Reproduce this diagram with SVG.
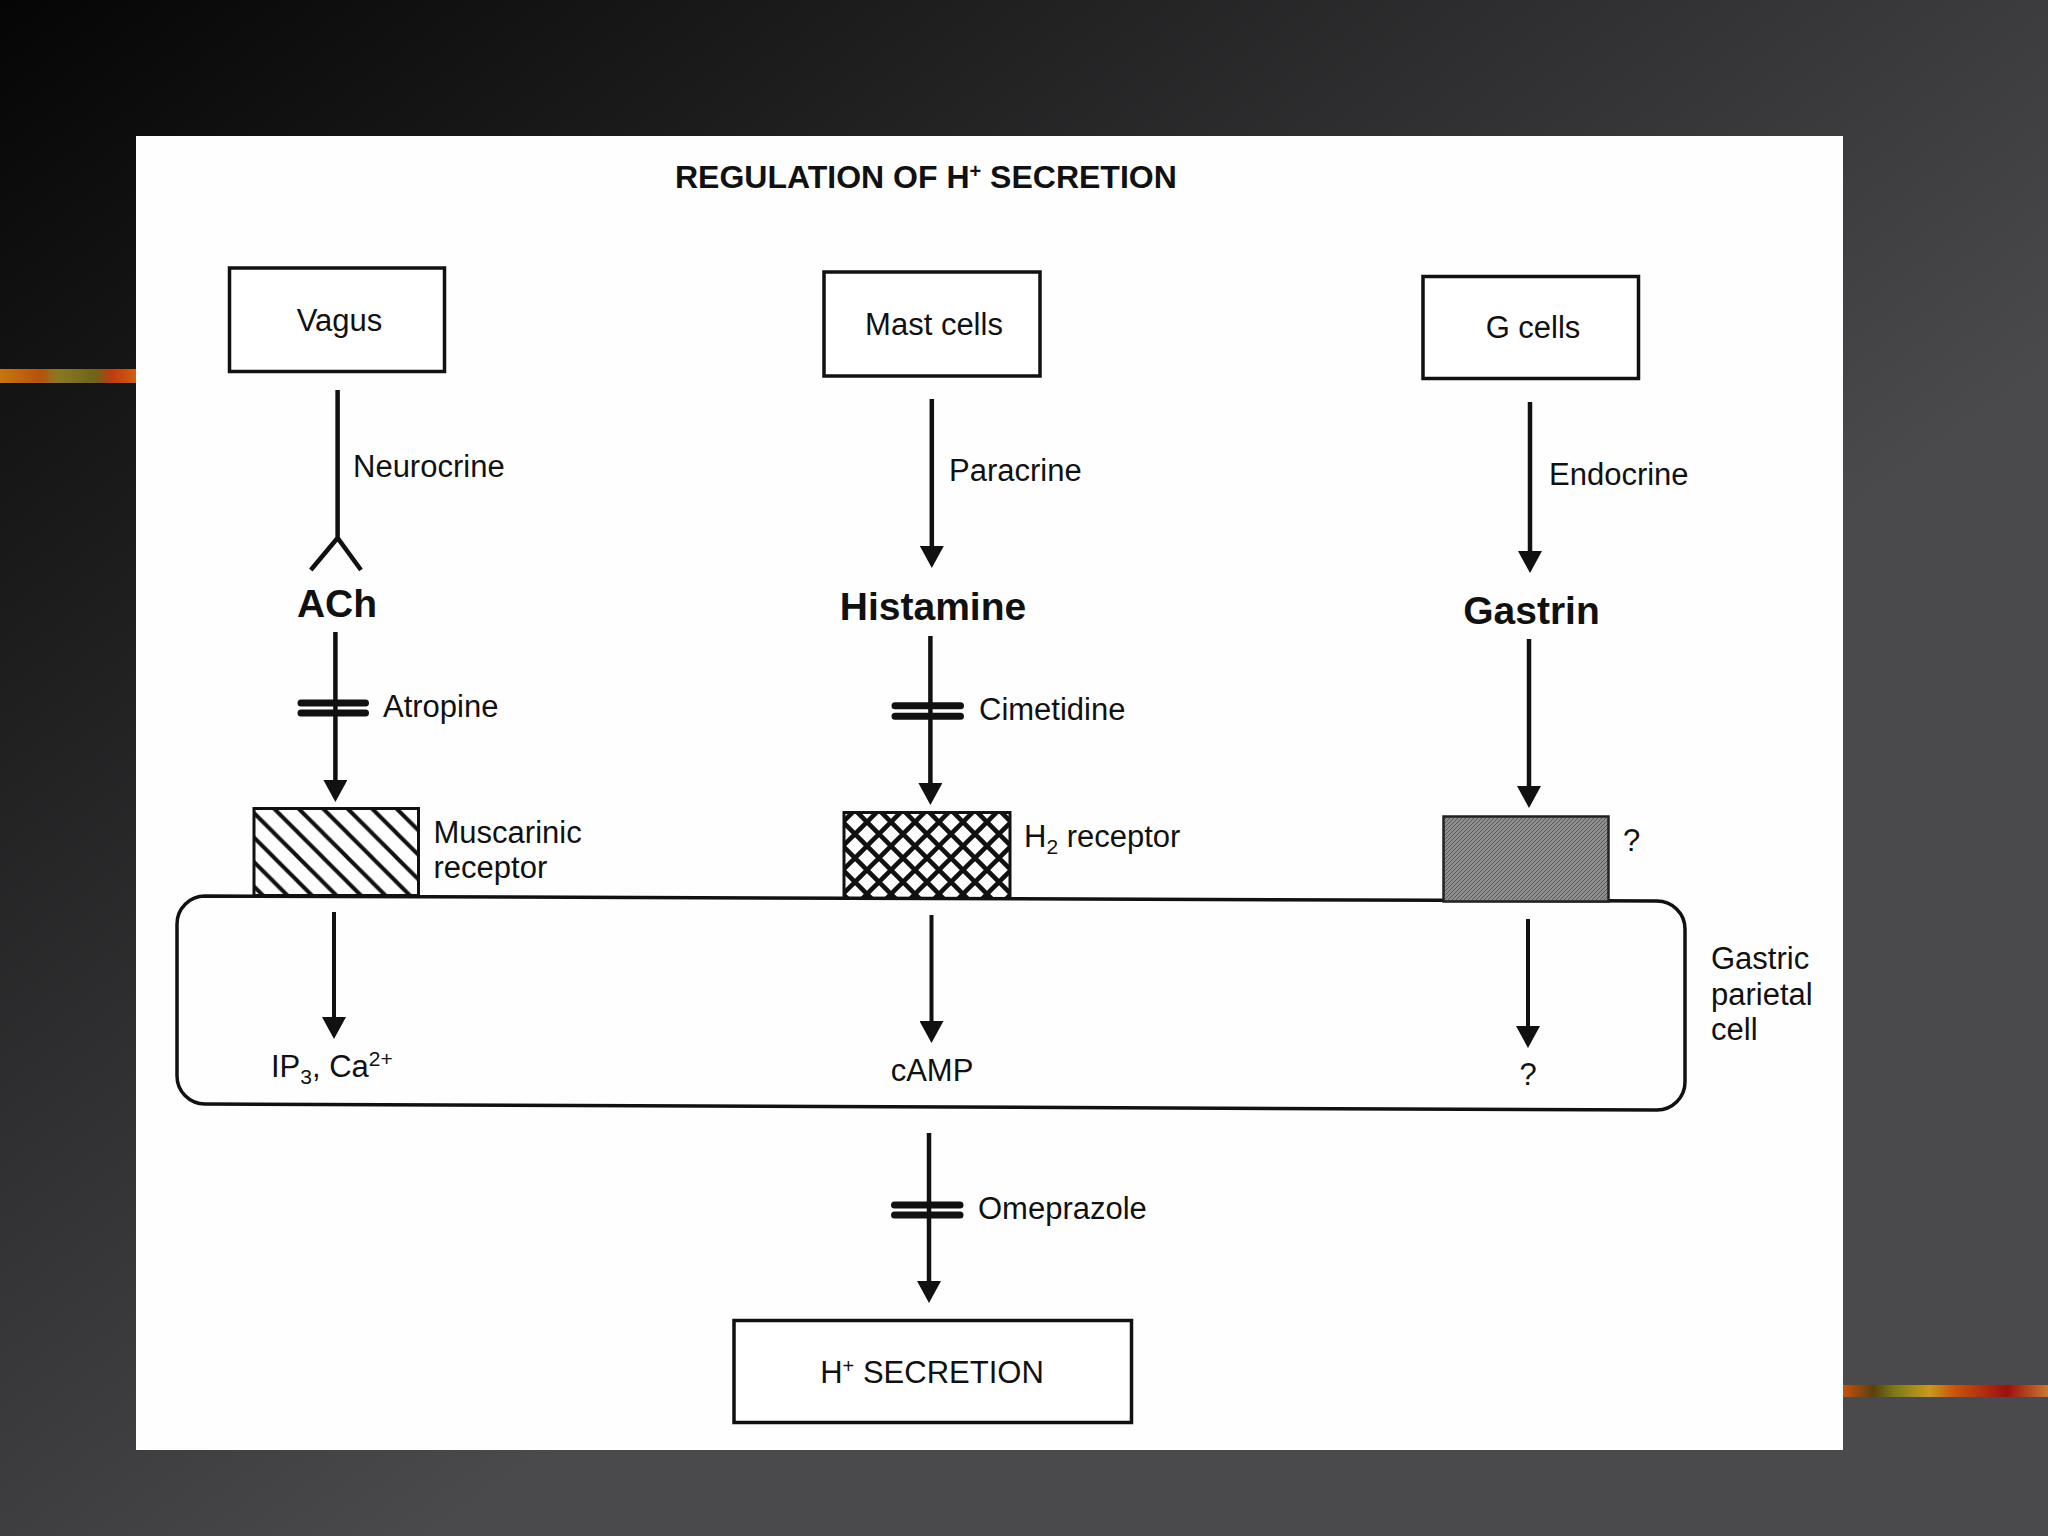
<svg xmlns="http://www.w3.org/2000/svg" width="2048" height="1536" viewBox="0 0 2048 1536">
<defs>
<linearGradient id="bg" gradientUnits="userSpaceOnUse" x1="0" y1="0" x2="880" y2="1217">
<stop offset="0" stop-color="#050505"/>
<stop offset="1" stop-color="#4a494c"/>
</linearGradient>
<linearGradient id="stripeL" x1="0" y1="0" x2="1" y2="0">
<stop offset="0" stop-color="#c8760e"/>
<stop offset="0.3" stop-color="#b4520f"/>
<stop offset="0.42" stop-color="#8c7a22"/>
<stop offset="0.7" stop-color="#6e6418"/>
<stop offset="0.82" stop-color="#c03a10"/>
<stop offset="1" stop-color="#d0600f"/>
</linearGradient>
<linearGradient id="stripeR" x1="0" y1="0" x2="1" y2="0">
<stop offset="0" stop-color="#c8500c"/>
<stop offset="0.15" stop-color="#5a4010"/>
<stop offset="0.25" stop-color="#7a7a18"/>
<stop offset="0.42" stop-color="#c89a20"/>
<stop offset="0.55" stop-color="#c8520c"/>
<stop offset="0.8" stop-color="#9a1010"/>
<stop offset="1" stop-color="#c87a30"/>
</linearGradient>
<pattern id="hatch" patternUnits="userSpaceOnUse" x="249" y="808" width="24.5" height="24.5">
<path d="M-24.5,0 L0,24.5 M0,0 L24.5,24.5 M24.5,0 L49,24.5 M0,-24.5 L24.5,0 M0,24.5 L24.5,49" stroke="#111" stroke-width="4" fill="none"/>
</pattern>
<pattern id="cross" patternUnits="userSpaceOnUse" x="843" y="798" width="24" height="24">
<path d="M0,0 L24,24 M-24,0 L0,24 M24,0 L48,24 M24,0 L0,24 M0,0 L-24,24 M48,0 L24,24" stroke="#111" stroke-width="4.6" fill="none"/>
</pattern>
<pattern id="stipple" patternUnits="userSpaceOnUse" width="4" height="4">
<rect width="4" height="4" fill="#8e8e8e"/>
<path d="M0,4 L4,0" stroke="#5a5a5a" stroke-width="1"/>
</pattern>
<marker id="arrow" markerUnits="userSpaceOnUse" viewBox="0 0 22 24" refX="10" refY="12" markerWidth="22" markerHeight="24" orient="auto">
<path d="M0,0 L22,12 L0,24 Z" fill="#111"/>
</marker>
<style>
.t{font-family:"Liberation Sans",Arial,Helvetica,sans-serif;fill:#111}
.lbl{font-size:31px}
.b{font-size:39px;font-weight:bold}
.box{fill:#fff;stroke:#111;stroke-width:3.5}
.ln{stroke:#111;stroke-width:4.5;fill:none}
.ln2{stroke:#111;stroke-width:4;fill:none}
.blk{stroke:#111;stroke-width:7;stroke-linecap:round;fill:none}
</style>
</defs>

<rect x="0" y="0" width="2048" height="1536" fill="url(#bg)"/>
<rect x="0" y="369" width="136" height="14" fill="url(#stripeL)"/>
<rect x="1843" y="1385" width="205" height="12" fill="url(#stripeR)"/>
<rect x="136" y="136" width="1707" height="1314" fill="#fefefe"/>

<text class="t" x="675" y="188" font-size="32" font-weight="bold">REGULATION OF H<tspan font-size="20" dy="-10">+</tspan><tspan dy="10"> SECRETION</tspan></text>

<g id="cell">
<path d="M205,896 L1657,901 A28,28 0 0 1 1685,929 L1685,1082 A28,28 0 0 1 1657,1110 L205,1104 A28,28 0 0 1 177,1076 L177,924 A28,28 0 0 1 205,896 Z" fill="none" stroke="#111" stroke-width="3.5"/>
<text class="t lbl" x="1711" y="969">Gastric</text>
<text class="t lbl" x="1711" y="1005">parietal</text>
<text class="t lbl" x="1711" y="1040">cell</text>
</g>

<g id="connectors">
<path class="ln" d="M337.6,390 L337.6,540 M310.8,570 L337.6,538 L361,570"/>
<line class="ln" x1="931.8" y1="399" x2="931.8" y2="556" marker-end="url(#arrow)"/>
<line class="ln" x1="1530" y1="402" x2="1530" y2="561" marker-end="url(#arrow)"/>
<line class="ln" x1="335.4" y1="632" x2="335.4" y2="790" marker-end="url(#arrow)"/>
<line class="ln" x1="930.4" y1="636" x2="930.4" y2="793" marker-end="url(#arrow)"/>
<line class="ln" x1="1529" y1="639" x2="1529" y2="796" marker-end="url(#arrow)"/>
<line class="ln2" x1="334" y1="912" x2="334" y2="1027" marker-end="url(#arrow)"/>
<line class="ln2" x1="931.5" y1="915" x2="931.5" y2="1031" marker-end="url(#arrow)"/>
<line class="ln2" x1="1528" y1="919" x2="1528" y2="1036" marker-end="url(#arrow)"/>
<line class="ln" x1="929" y1="1133" x2="929" y2="1291" marker-end="url(#arrow)"/>
<path class="blk" d="M301,703 L365.5,703 M301,713 L365.5,713"/>
<path class="blk" d="M895,705.7 L960.5,705.7 M895,716.3 L960.5,716.3"/>
<path class="blk" d="M894.5,1205 L960,1205 M894.5,1215 L960,1215"/>
<text class="t lbl" x="353" y="477">Neurocrine</text>
<text class="t lbl" x="949" y="481">Paracrine</text>
<text class="t lbl" x="1549" y="485">Endocrine</text>
<text class="t lbl" x="383" y="717">Atropine</text>
<text class="t lbl" x="979" y="720">Cimetidine</text>
<text class="t lbl" x="978" y="1219">Omeprazole</text>
</g>

<g id="vagus">
<rect class="box" x="229.5" y="268" width="215" height="103.5"/>
<text class="t lbl" x="339.5" y="331" text-anchor="middle">Vagus</text>
</g>
<g id="mast-cells">
<rect class="box" x="824" y="272" width="216" height="104"/>
<text class="t lbl" x="934" y="335" text-anchor="middle">Mast cells</text>
</g>
<g id="g-cells">
<rect class="box" x="1423" y="276.5" width="215.5" height="102"/>
<text class="t lbl" x="1533" y="338" text-anchor="middle">G cells</text>
</g>

<g id="ach"><text class="t b" x="337" y="617" text-anchor="middle">ACh</text></g>
<g id="histamine"><text class="t b" x="933" y="620" text-anchor="middle">Histamine</text></g>
<g id="gastrin"><text class="t b" x="1531.5" y="624" text-anchor="middle">Gastrin</text></g>

<g id="muscarinic-receptor">
<rect x="254" y="808.5" width="164.5" height="87" fill="url(#hatch)" stroke="#111" stroke-width="3"/>
<text class="t lbl" x="433.5" y="843">Muscarinic</text>
<text class="t lbl" x="433.5" y="878">receptor</text>
</g>
<g id="h2-receptor">
<rect x="844" y="812.5" width="166" height="86" fill="url(#cross)" stroke="#111" stroke-width="3"/>
<text class="t lbl" x="1024" y="847">H<tspan font-size="21" dy="7">2</tspan><tspan dy="-7"> receptor</tspan></text>
</g>
<g id="gastrin-receptor">
<rect x="1443.5" y="816.5" width="165" height="85" fill="url(#stipple)" stroke="#222" stroke-width="2.5"/>
<text class="t lbl" x="1623" y="851">?</text>
</g>

<g id="ip3-ca">
<text class="t lbl" x="271" y="1077">IP<tspan font-size="21" dy="7">3</tspan><tspan dy="-7">, Ca</tspan><tspan font-size="21" dy="-11">2+</tspan></text>
</g>
<g id="camp"><text class="t lbl" x="932" y="1081" text-anchor="middle">cAMP</text></g>
<g id="unknown"><text class="t lbl" x="1528" y="1085" text-anchor="middle">?</text></g>

<g id="h-secretion">
<rect class="box" x="734" y="1320.5" width="397.5" height="102"/>
<text class="t lbl" x="932" y="1383" text-anchor="middle">H<tspan font-size="20" dy="-10">+</tspan><tspan dy="10"> SECRETION</tspan></text>
</g>
</svg>
